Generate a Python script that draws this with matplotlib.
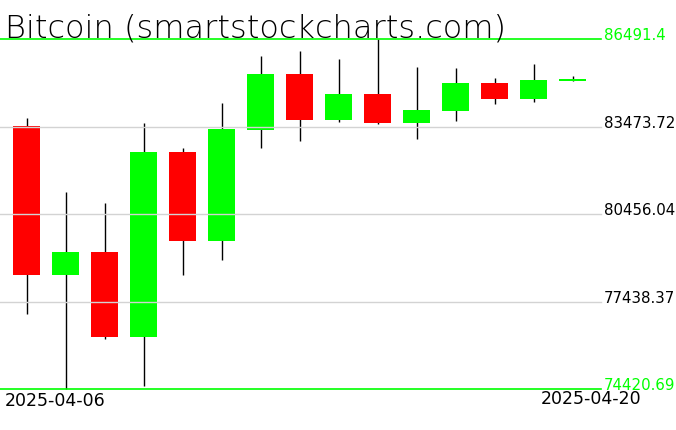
import matplotlib
matplotlib.use("Agg")
import matplotlib.pyplot as plt
import matplotlib.transforms as mtransforms
import numpy as np

title = "Bitcoin (smartstockcharts.com)"
dates = ["2025-04-06", "2025-04-07", "2025-04-08", "2025-04-09", "2025-04-10",
         "2025-04-11", "2025-04-12", "2025-04-13", "2025-04-14", "2025-04-15",
         "2025-04-16", "2025-04-17", "2025-04-18", "2025-04-19", "2025-04-20"]
opens = [83495, 78357, 79141, 76215, 82597, 79532, 83368, 85292, 83713, 84601,
         83610, 84024, 84981, 84439, 85060]
highs = [83772, 81215, 80835, 83599, 82735, 84290, 85914, 86087, 85811, 86491.4,
         85534, 85500, 85154, 85638, 85223]
lows = [77023, 74420.69, 76146, 74522, 78357, 78876, 82746, 82988, 83644, 83575,
        83057, 83679, 84266, 84335, 85040]
closes = [78357, 79141, 76215, 82597, 79532, 83392, 85292, 83713, 84601, 83610,
          84048, 84981, 84439, 85085, 85120]
level_labels = ["74420.69", "77438.37", "80456.04", "83473.72", "86491.4"]
date_labels = ["2025-04-06", "2025-04-20"]

GREEN = "#00ff00"
RED = "#ff0000"
GRID = "#d3d3d3"

W, H = 676, 431
fig = plt.figure(figsize=(W / 100, H / 100), dpi=100)
top_px, bot_px, right_px = 40.3, 390.3, 601
ax = fig.add_axes([0, (H - bot_px) / H, right_px / W, (bot_px - top_px) / H])
ax.set_axis_off()

lo, hi = min(lows), max(highs)
ax.set_ylim(lo, hi)
x = np.arange(len(dates))
ax.set_xlim(-26.5 / 39, (right_px - 26.5) / 39)

levels = np.linspace(lo, hi, 5)
for i, lv in enumerate(levels):
    edge = i == 0 or i == len(levels) - 1
    ax.axhline(lv, color=GREEN if edge else GRID, lw=1.2 if edge else 1.0,
               zorder=5, clip_on=False)

ax.vlines(x, lows, highs, color="black", lw=1.0, zorder=2, clip_on=False)
o = np.array(opens, float)
c = np.array(closes, float)
colors = [GREEN if cc >= oo else RED for oo, cc in zip(o, c)]
ax.bar(x, c - o, bottom=o, width=27 / 39, color=colors, zorder=3,
       linewidth=0, clip_on=False)

trans = mtransforms.blended_transform_factory(ax.transAxes, ax.transData)
for i, (lv, lab) in enumerate(zip(levels, level_labels)):
    edge = i == 0 or i == len(levels) - 1
    ax.text(604 / right_px, lv, lab, transform=trans, ha="left", va="baseline",
            fontsize=10.8, color=GREEN if edge else "black",
            family="DejaVu Sans", clip_on=False)

fig.text(5 / W, (H - 38) / H, title, ha="left", va="baseline", fontsize=23,
         family="DejaVu Sans", fontweight="light", color="black")
fig.text(5 / W, (H - 406) / H, date_labels[0], ha="left", va="baseline",
         fontsize=12.5, family="DejaVu Sans", color="black")
fig.text(541 / W, (H - 404) / H, date_labels[1], ha="left", va="baseline",
         fontsize=12.5, family="DejaVu Sans", color="black")

fig.savefig("out.png", dpi=100, facecolor="white")
